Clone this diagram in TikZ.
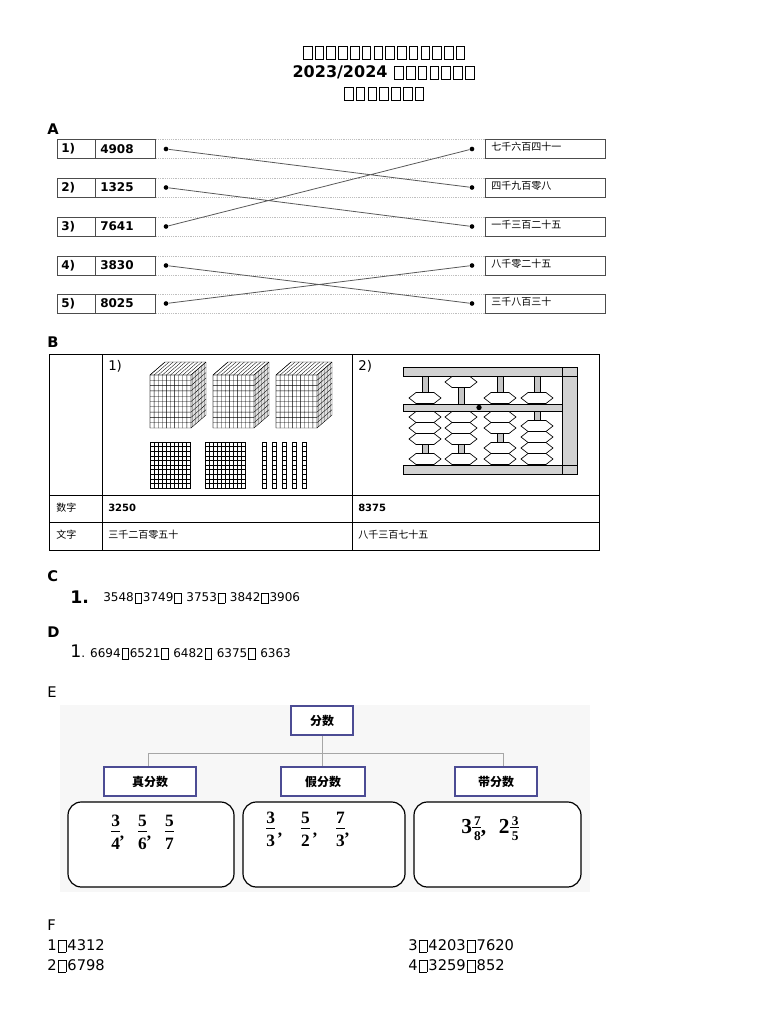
\documentclass[tikz,border=0pt]{standalone}
\usepackage{fontspec}
\setmainfont{DejaVu Sans}
\newfontfamily\cjk{Noto Sans CJK SC}
\newfontfamily\ser{Liberation Serif}
\newcommand\tofu{{\kern0.08em\fboxsep=0pt\fboxrule=0.45pt\fbox{\rule{0.5em}{0pt}\rule[-0.1em]{0pt}{0.8em}}\kern0.08em}}
\newcommand\myfr[2]{\begin{tabular}{@{}c@{}}#1\\[-1pt]\hline\rule{0pt}{1.05em}#2\end{tabular}}
\newcommand\smfr[2]{{\fontsize{10}{11}\selectfont\begin{tabular}{@{\,}c@{}}#1\\[-2pt]\hline\rule{0pt}{1.0em}#2\end{tabular}}}
\begin{document}
\begin{tikzpicture}[x=0.75pt,y=-0.75pt,
  lbl/.style={anchor=west,inner sep=0pt,font=\bfseries\fontsize{11}{13}\selectfont},
  cell/.style={anchor=west,inner sep=0pt,font=\bfseries\fontsize{9}{11}\selectfont},
  cn/.style={anchor=west,inner sep=0pt,font=\cjk\fontsize{7.5}{9}\selectfont},
  dot/.style={circle,fill,inner sep=0pt,minimum size=3.5pt},
  bluebox/.style={draw=blue!40!black!70,line width=0.9pt,fill=white,font=\cjk\bfseries\fontsize{9}{11}\selectfont},
  rbox/.style={draw,line width=0.9pt,rounded corners=10pt},
  frac/.style={anchor=west,inner sep=0pt,font=\ser\bfseries\fontsize{13}{15}\selectfont},
  bead/.style={draw,fill=white,line width=0.5pt}]
\useasboundingbox (0,0) rectangle (768,1024);
% title
\node[font=\bfseries\fontsize{12}{14}\selectfont] (t1) at (384,53) {\tofu\tofu\tofu\tofu\tofu\tofu\tofu\tofu\tofu\tofu\tofu\tofu\tofu\tofu};
\node[font=\bfseries\fontsize{12}{14}\selectfont] (t2) at (384,73) {2023/2024 \tofu\tofu\tofu\tofu\tofu\tofu\tofu};
\node[font=\bfseries\fontsize{12}{14}\selectfont] (t3) at (384,94) {\tofu\tofu\tofu\tofu\tofu\tofu\tofu};
% A
\node[lbl] (A) at (47,129) {A};
\foreach \y/\n/\v/\c [count=\i] in {149/1)/4908/七千六百四十一,187.5/2)/1325/四千九百零八,226.5/3)/7641/一千三百二十五,265.5/4)/3830/八千零二十五,303.5/5)/8025/三千八百三十}{
  \draw[gray!50,densely dotted] (57,\y-9.5) -- (605,\y-9.5) (57,\y+9.5) -- (605,\y+9.5);
  \draw[gray!60!black] (57,\y-9.5) rectangle (155,\y+9.5) (95,\y-9.5) -- (95,\y+9.5);
  \draw[gray!60!black] (485,\y-9.5) rectangle (605,\y+9.5);
  \node[cell] (ln\i) at (61,\y) {\n};
  \node[cell] (lv\i) at (100,\y) {\v};
  \node[cn] (r\i) at (491,\y-2) {\c};
  \node[dot] (L\i) at (166,\y) {};
  \node[dot] (R\i) at (472,\y) {};
}
\draw[gray!70!black,line width=0.6pt] (L1)--(R2) (L2)--(R3) (L3)--(R1) (L4)--(R5) (L5)--(R4);
% B
\node[lbl] (B) at (47,342) {B};
\draw[line width=0.6pt] (49,354) rectangle (599,550) (102,354)--(102,550) (352,354)--(352,550) (49,495)--(599,495) (49,522)--(599,522);
\node[cell,font=\fontsize{10}{12}\selectfont] (b1) at (108,366) {1)};
\node[cell,font=\fontsize{10}{12}\selectfont] (b2) at (358,366) {2)};
\node[cn] (sz) at (56,508) {数字};
\node[cell,font=\bfseries\fontsize{7.5}{9}\selectfont] (n1) at (108,508) {3250};
\node[cell,font=\bfseries\fontsize{7.5}{9}\selectfont] (n2) at (358,508) {8375};
\node[cn] (wz) at (56,535) {文字};
\node[cn] (w1) at (108,535) {三千二百零五十};
\node[cn] (w2) at (358,535) {八千三百七十五};
% cubes
\foreach \cx in {150,213,276}{
  \fill[white] (\cx,375) -- (\cx+15,362) -- (\cx+56,362) -- (\cx+56,415) -- (\cx+41,428) -- (\cx,428) -- cycle;
  \draw[line width=0.3pt] (\cx,375) -- (\cx+15,362) -- (\cx+56,362) -- (\cx+56,415) -- (\cx+41,428) -- (\cx,428) -- cycle (\cx,375)--(\cx+41,375)--(\cx+56,362) (\cx+41,375)--(\cx+41,428);
  \foreach \k in {0,...,9}{
    \draw[line width=0.25pt] (\cx+\k*4.1,375)--(\cx+\k*4.1,428) (\cx,375+\k*5.3)--(\cx+41,375+\k*5.3)
      (\cx+\k*4.1,375)--(\cx+\k*4.1+15,362)
      (\cx+41+\k*1.5,375-\k*1.3)--(\cx+41+\k*1.5,428-\k*1.3)
      (\cx+41,375+\k*5.3)--(\cx+56,362+\k*5.3);
  }
}
\foreach \cx in {150,205}{
  \draw[line width=0.3pt] (\cx,442) rectangle (\cx+40,488);
  \foreach \k in {1,...,9}{\draw[line width=0.25pt] (\cx+\k*4,442)--(\cx+\k*4,488) (\cx,442+\k*4.6)--(\cx+40,442+\k*4.6);}
}
\foreach \cx in {262,272,282,292,302}{
  \draw[line width=0.3pt] (\cx,442) rectangle (\cx+4,488);
  \foreach \k in {1,...,9}{\draw[line width=0.25pt] (\cx,442+\k*4.6)--(\cx+4,442+\k*4.6);}
}
% abacus
\fill[gray!35] (403,367) rectangle (577,376) (403,404) rectangle (562,411) (403,465) rectangle (577,474) (562,367) rectangle (577,474);
\draw[line width=0.5pt] (403,367) rectangle (577,376) (403,404) rectangle (562,411) (403,465) rectangle (577,474) (562,367) rectangle (577,474);
\foreach \rx in {425,461,500,537}{\fill[gray!45] (\rx-3,376) rectangle (\rx+3,404) (\rx-3,411) rectangle (\rx+3,465); \draw[line width=0.4pt] (\rx-3,376) rectangle (\rx+3,404) (\rx-3,411) rectangle (\rx+3,465);}
\newcommand\bd[2]{\draw[bead] (#1-16,#2) -- (#1-9,#2-5.5) -- (#1+9,#2-5.5) -- (#1+16,#2) -- (#1+9,#2+5.5) -- (#1-9,#2+5.5) -- cycle;}
\bd{425}{398}\bd{425}{417}\bd{425}{428}\bd{425}{439}\bd{425}{459}
\bd{461}{382}\bd{461}{417}\bd{461}{428}\bd{461}{439}\bd{461}{459}
\bd{500}{398}\bd{500}{417}\bd{500}{428}\bd{500}{448}\bd{500}{459}
\bd{537}{398}\bd{537}{426}\bd{537}{437}\bd{537}{448}\bd{537}{459}
\node[dot,minimum size=4pt] (ad) at (479,407.5) {};
% C, D
\node[lbl] (C) at (47,576) {C};
\node[lbl,font=\bfseries\fontsize{13}{15}\selectfont] (c1) at (70,597) {1.};
\node[anchor=west,inner sep=0pt,font=\fontsize{9}{11}\selectfont] (ct) at (103,598) {3548\tofu3749\tofu\ 3753\tofu\ 3842\tofu3906};
\node[lbl] (D) at (47,632) {D};
\node[anchor=west,inner sep=0pt,font=\fontsize{9}{11}\selectfont] (dt) at (70,652) {{\fontsize{13}{15}\selectfont 1}. 6694\tofu6521\tofu\ 6482\tofu\ 6375\tofu\ 6363};
% E
\node[anchor=west,inner sep=0pt,font=\fontsize{11}{13}\selectfont] (E) at (47,692) {E};
\fill[gray!6] (60,705) rectangle (590,892);
\draw[gray!70,line width=0.6pt] (322,735) -- (322,767) (148,767) |- (503,753) -- (503,767);
\node[bluebox,minimum width=46.5pt,minimum height=21.75pt] (fs) at (322,720.5) {分数};
\node[bluebox,minimum width=69pt,minimum height=21.75pt] (z) at (150,781.5) {真分数};
\node[bluebox,minimum width=63pt,minimum height=21.75pt] (j) at (323,781.5) {假分数};
\node[bluebox,minimum width=61.5pt,minimum height=21.75pt] (d) at (496,781.5) {带分数};
\draw[rbox,fill=white] (68,802) rectangle (234,887);
\draw[rbox,fill=white] (243,802) rectangle (405,887);
\draw[rbox,fill=white] (414,802) rectangle (581,887);
\node[frac] (f1) at (111,834) {\myfr{3}{4},\hspace{0.8em}\myfr{5}{6},\hspace{0.8em}\myfr{5}{7}};
\node[frac] (f2) at (266,831) {\myfr{3}{3}\,,\hspace{1.1em}\myfr{5}{2}\,,\hspace{1.1em}\myfr{7}{3},};
\node[frac,font=\ser\bfseries\fontsize{16}{18}\selectfont] (f3) at (461,830) {3\smfr{7}{8},\hspace{0.6em}2\smfr{3}{5}};
% F
\node[anchor=west,inner sep=0pt,font=\fontsize{11}{13}\selectfont] (F) at (47,925) {F};
\node[anchor=west,inner sep=0pt,font=\fontsize{11}{13}\selectfont] (F1) at (47,946) {1\tofu4312};
\node[anchor=west,inner sep=0pt,font=\fontsize{11}{13}\selectfont] (F2) at (47,966) {2\tofu6798};
\node[anchor=west,inner sep=0pt,font=\fontsize{11}{13}\selectfont] (F3) at (408,946) {3\tofu4203\tofu7620};
\node[anchor=west,inner sep=0pt,font=\fontsize{11}{13}\selectfont] (F4) at (408,966) {4\tofu3259\tofu852};
\end{tikzpicture}
\end{document}
